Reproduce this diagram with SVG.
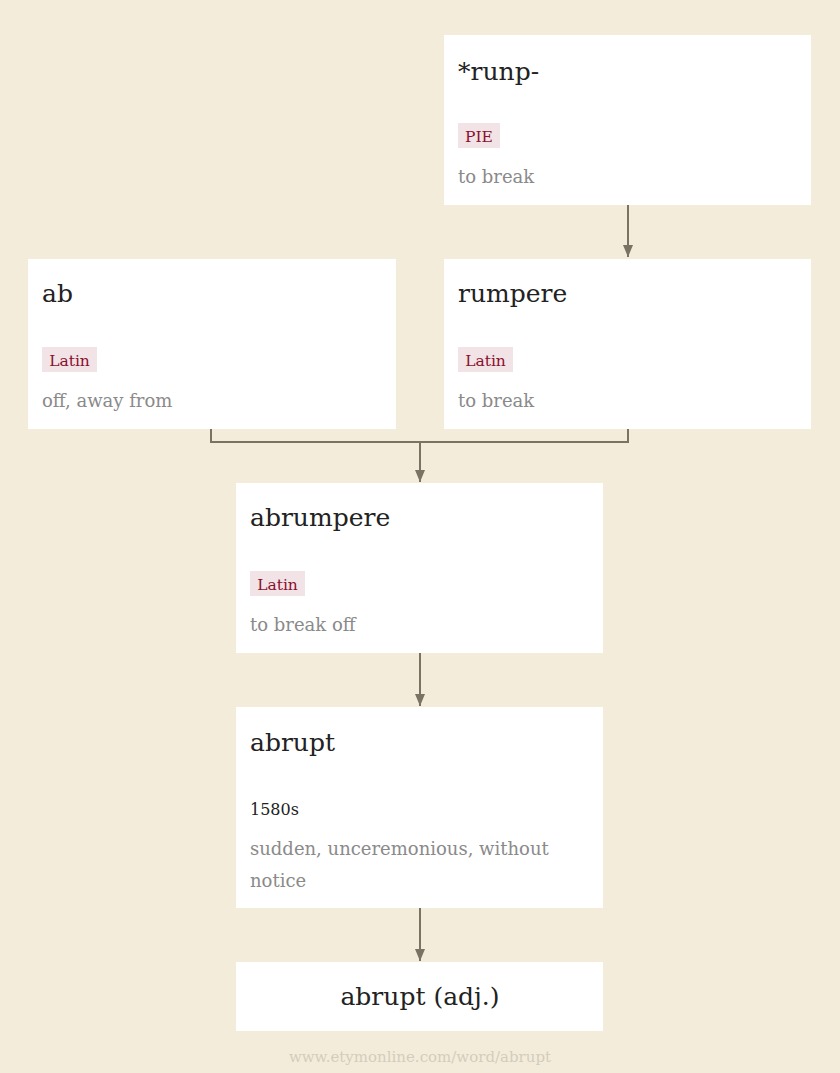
<svg xmlns="http://www.w3.org/2000/svg" width="840" height="1073" viewBox="0 0 840 1073">
<defs>
<marker id="arr" viewBox="0 0 12 10" refX="12" refY="5" markerWidth="12" markerHeight="10" markerUnits="userSpaceOnUse" orient="auto">
<path d="M0,0 L12,5 L0,10 Z" fill="#7a7262"/>
</marker>
<style>
.box{fill:#ffffff}
.title{font-family:"DejaVu Serif","Liberation Serif",serif;font-size:25px;fill:#222222}
.tagbg{fill:#f1e3e6}
.tag{font-family:"DejaVu Serif","Liberation Serif",serif;font-size:15.5px;fill:#8a0f2c}
.gloss{font-family:"DejaVu Serif","Liberation Serif",serif;font-size:18px;fill:#8a8a8a}
.date{font-family:"DejaVu Serif","Liberation Serif",serif;font-size:16px;fill:#222222}
.conn{fill:none;stroke:#7a7262;stroke-width:2}
.foot{font-family:"DejaVu Serif","Liberation Serif",serif;font-size:15px;fill:#d3ccbc}
</style>
</defs>
<rect width="840" height="1073" fill="#f3ecdb"/>
<g id="connectors">
<path class="conn" d="M628,205 V257" marker-end="url(#arr)"/>
<path class="conn" d="M211,429 V442 H628 V429"/>
<path class="conn" d="M420,442 V482" marker-end="url(#arr)"/>
<path class="conn" d="M420,653 V706" marker-end="url(#arr)"/>
<path class="conn" d="M420,908 V961" marker-end="url(#arr)"/>
</g>
<g id="node-runp">
<rect class="box" x="444" y="35" width="367" height="170"/>
<text class="title" x="458" y="80">*runp-</text>
<rect class="tagbg" x="458" y="123" width="42" height="25"/>
<text class="tag" x="479" y="142" text-anchor="middle">PIE</text>
<text class="gloss" x="458" y="183">to break</text>
</g>
<g id="node-ab">
<rect class="box" x="28" y="259" width="368" height="170"/>
<text class="title" x="42" y="302">ab</text>
<rect class="tagbg" x="42" y="347" width="55" height="25"/>
<text class="tag" x="69.5" y="366" text-anchor="middle">Latin</text>
<text class="gloss" x="42" y="407">off, away from</text>
</g>
<g id="node-rumpere">
<rect class="box" x="444" y="259" width="367" height="170"/>
<text class="title" x="458" y="302">rumpere</text>
<rect class="tagbg" x="458" y="347" width="55" height="25"/>
<text class="tag" x="485.5" y="366" text-anchor="middle">Latin</text>
<text class="gloss" x="458" y="407">to break</text>
</g>
<g id="node-abrumpere">
<rect class="box" x="236" y="483" width="367" height="170"/>
<text class="title" x="250" y="526">abrumpere</text>
<rect class="tagbg" x="250" y="571" width="55" height="25"/>
<text class="tag" x="277.5" y="590" text-anchor="middle">Latin</text>
<text class="gloss" x="250" y="631">to break off</text>
</g>
<g id="node-abrupt">
<rect class="box" x="236" y="707" width="367" height="201"/>
<text class="title" x="250" y="751">abrupt</text>
<text class="date" x="250" y="815">1580s</text>
<text class="gloss" x="250" y="855">sudden, unceremonious, without</text>
<text class="gloss" x="250" y="887">notice</text>
</g>
<g id="node-abrupt-adj">
<rect class="box" x="236" y="962" width="367" height="69"/>
<text class="title" x="420" y="1005" text-anchor="middle">abrupt (adj.)</text>
</g>
<text class="foot" x="420" y="1062" text-anchor="middle">www.etymonline.com/word/abrupt</text>
</svg>
